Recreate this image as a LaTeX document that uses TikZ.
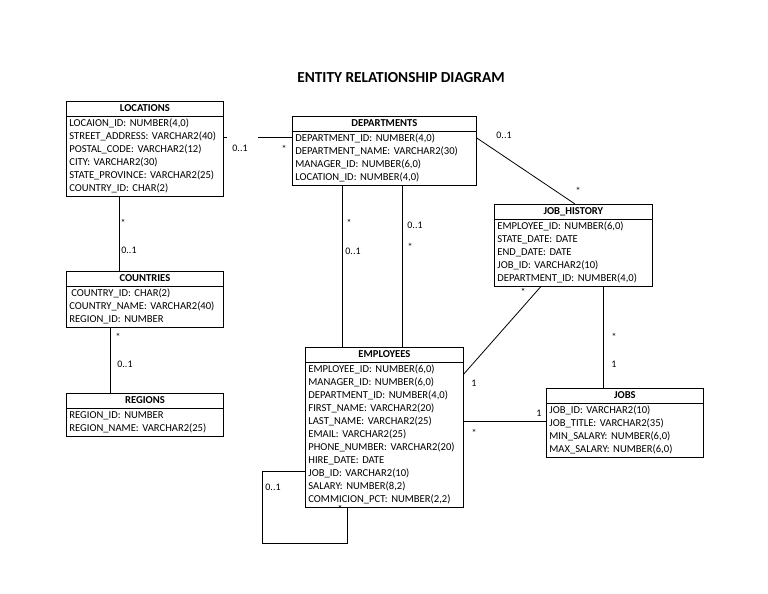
\documentclass[tikz,border=0pt]{standalone}
\usepackage{fontspec}
\setmainfont{Carlito}
\usetikzlibrary{shapes,positioning}

\begin{document}
\begin{tikzpicture}[x=1pt, y=-1pt, line width=0.8pt]
        \tikzstyle{entity} = [rectangle split, rectangle split parts=2, draw, anchor=north west, inner xsep=3pt, inner ysep=0.5pt, font=\fontsize{10.6}{13}\selectfont\frenchspacing]
        \tikzstyle{line} = [draw]
        \tikzstyle{mult} = [inner sep=0pt, font=\fontsize{10}{13}\selectfont]

        \useasboundingbox (0,0) rectangle (768,594);
        \node [font=\bfseries\fontsize{15.3}{17}\selectfont] (title) at (401,78) {ENTITY RELATIONSHIP DIAGRAM};

        \node [entity, text width=151pt] (loc) at (66,101) {\hfill\strut\textbf{LOCATIONS}\hfill\null
            \nodepart{two}\strut LOCAION\_ID: NUMBER(4,0)\\ STREET\_ADDRESS: VARCHAR2(40)\\ POSTAL\_CODE: VARCHAR2(12)\\ CITY: VARCHAR2(30)\\ STATE\_PROVINCE: VARCHAR2(25)\\ COUNTRY\_ID: CHAR(2)\strut};
        \node [entity, text width=178pt] (dept) at (292,116) {\hfill\strut\textbf{DEPARTMENTS}\hfill\null
            \nodepart{two}\strut DEPARTMENT\_ID: NUMBER(4,0)\\ DEPARTMENT\_NAME: VARCHAR2(30)\\ MANAGER\_ID: NUMBER(6,0)\\ LOCATION\_ID: NUMBER(4,0)\strut};
        \node [entity, text width=152pt] (jh) at (494,204) {\hfill\strut\textbf{JOB\_HISTORY}\hfill\null
            \nodepart{two}\strut EMPLOYEE\_ID: NUMBER(6,0)\\ STATE\_DATE: DATE\\ END\_DATE: DATE\\ JOB\_ID: VARCHAR2(10)\\ DEPARTMENT\_ID: NUMBER(4,0)\strut};
        \node [entity, text width=151pt] (cty) at (66,271) {\hfill\strut\textbf{COUNTRIES}\hfill\null
            \nodepart{two}\strut\hspace{2pt}COUNTRY\_ID: CHAR(2)\\ COUNTRY\_NAME: VARCHAR2(40)\\ REGION\_ID: NUMBER\strut};
        \node [entity, text width=151pt] (reg) at (66,393) {\hfill\strut\textbf{REGIONS}\hfill\null
            \nodepart{two}\strut REGION\_ID: NUMBER\\ REGION\_NAME: VARCHAR2(25)\strut};
        \node [entity, text width=152pt] (emp) at (305,347) {\hfill\strut\textbf{EMPLOYEES}\hfill\null
            \nodepart{two}\strut EMPLOYEE\_ID: NUMBER(6,0)\\ MANAGER\_ID: NUMBER(6,0)\\ DEPARTMENT\_ID: NUMBER(4,0)\\ FIRST\_NAME: VARCHAR2(20)\\ LAST\_NAME: VARCHAR2(25)\\ EMAIL: VARCHAR2(25)\\ PHONE\_NUMBER: VARCHAR2(20)\\ HIRE\_DATE: DATE\\ JOB\_ID: VARCHAR2(10)\\ SALARY: NUMBER(8,2)\\ COMMICION\_PCT: NUMBER(2,2)\strut};
        \node [entity, text width=151pt] (jobs) at (546,388) {\hfill\strut\textbf{JOBS}\hfill\null
            \nodepart{two}\strut JOB\_ID: VARCHAR2(10)\\ JOB\_TITLE: VARCHAR2(35)\\ MIN\_SALARY: NUMBER(6,0)\\ MAX\_SALARY: NUMBER(6,0)\strut};

        % connectors
        \coordinate (gap) at (258,137.5);
        \coordinate (loop) at (262,543);
        \path [line] (loc.east |- gap) -- ++(3,0);
        \path [line] (gap) -- (dept.west |- gap);
        \path [line] (loc.south -| 119,0) -- (cty.north -| 119,0);
        \path [line] (cty.south -| 110,0) -- (reg.north -| 110,0);
        \path [line] (dept.east |- 0,138) -- (jh.north -| 575,0);
        \path [line] (dept.south -| 342,0) -- (emp.north -| 342,0);
        \path [line] (dept.south -| 402,0) -- (emp.north -| 402,0);
        \path [line] (jh.south -| 541,0) -- (emp.east |- 0,374);
        \path [line] (jh.south -| 603,0) -- (jobs.north -| 603,0);
        \path [line] (emp.east |- 0,421) -- (jobs.west |- 0,421);
        \path [line] (emp.west |- 0,471) -| (loop) -| (emp.south -| 347,0);

        % multiplicities
        \node [mult] (m1) at (240,148) {0..1};
        \node [mult] (m2) at (284,149) {*};
        \node [mult] (m3) at (123,223) {*};
        \node [mult] (m4) at (129,250) {0..1};
        \node [mult] (m5) at (118,337) {*};
        \node [mult] (m6) at (125,364) {0..1};
        \node [mult] (m7) at (504,135) {0..1};
        \node [mult] (m8) at (578,191) {*};
        \node [mult] (m9) at (349,223) {*};
        \node [mult] (m10) at (353,251) {0..1};
        \node [mult] (m11) at (415,225) {0..1};
        \node [mult] (m12) at (410,247) {*};
        \node [mult] (m13) at (523,292) {*};
        \node [mult] (m14) at (474,383) {1};
        \node [mult] (m15) at (614,337) {*};
        \node [mult] (m16) at (614,364) {1};
        \node [mult] (m17) at (539,413) {1};
        \node [mult] (m18) at (474,433) {*};
        \node [mult] (m19) at (273,487) {0..1};
        \node [mult] (m20) at (340,509) {*};
    \end{tikzpicture}
\end{document}
